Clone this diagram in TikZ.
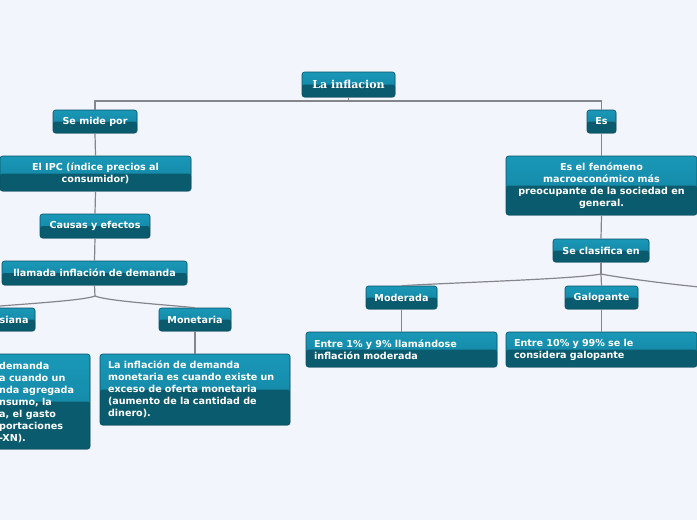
\documentclass[tikz,border=0pt]{standalone}
\usepackage{fontspec}
\newfontfamily\boxfont{DejaVu Sans}
\newfontfamily\titlefont{DejaVu Serif}
\usepackage{tikz}
\usetikzlibrary{shadows}
\definecolor{pagebg}{HTML}{F3F5FD}
\definecolor{boxtop}{HTML}{1A98B8}
\definecolor{boxmid}{HTML}{117F9D}
\definecolor{boxlow}{HTML}{0B5B6E}
\definecolor{boxline}{HTML}{0A5264}
\definecolor{linkgray}{HTML}{85858C}

\tikzset{
    topic/.style={
        rounded corners=2.5pt,
        draw=boxline,
        line width=0.6pt,
        top color=boxtop,
        bottom color=boxmid,
        path picture={
            \fill[boxlow] (path picture bounding box.west)
                rectangle (path picture bounding box.south east);
        },
        drop shadow={shadow xshift=0.5pt, shadow yshift=-0.8pt, opacity=0.25},
        text=white,
        font=\boxfont\bfseries\fontsize{9.6}{12}\selectfont,
        inner xsep=8pt,
        inner ysep=0pt,
        align=center
    },
    topictext/.style={
        text=white,
        font=\boxfont\bfseries\fontsize{9.6}{12}\selectfont,
        inner sep=0pt,
        align=left
    },
    link/.style={
        draw=linkgray,
        line width=1.2pt
    }
}

\begin{document}
\begin{tikzpicture}[x=1pt, y=-1pt]

    \useasboundingbox (0,0) rectangle (697,520);
    \fill[pagebg] (0,0) rectangle (697,520);
    \clip (0,0) rectangle (697,520);

    % connectors first, boxes on top
    \coordinate (rootjoin) at (348.5,101);
    \coordinate (demjoin) at (95,296);
    \coordinate (clasjoin) at (601,274);
    \coordinate (offright) at (760,291);

    % root
    \node[
        topic,
        font=\titlefont\bfseries\fontsize{11}{13}\selectfont,
        minimum width=93pt,
        minimum height=25pt
    ] (inflacion) at (348.5,84.5) {La inflacion};

    % left branch
    \node[topic, minimum width=84pt, minimum height=23pt] (semide) at (95,121.5) {Se mide por};
    \node[topic, minimum width=191pt, minimum height=35pt] (ipc) at (95.5,173.5)
        {El IPC (índice precios al\\consumidor)};
    \node[topic, minimum width=110pt, minimum height=24pt] (causas) at (95,226) {Causas y efectos};
    \node[topic, minimum width=185pt, minimum height=24pt] (llamada) at (94.5,273)
        {llamada inflación de demanda};

    \node[topic, minimum width=110pt, minimum height=23pt] (keynes) at (-20,319.5) {};
    \node[topictext, anchor=west] (keynestext) at (-0.5,319.5) {siana};
    \node[topic, minimum width=72pt, minimum height=23pt] (monetaria) at (195,319.5) {Monetaria};

    \node[topic, minimum width=190pt, minimum height=95pt] (keybox) at (-5,401.5) {};
    \node[topictext, anchor=west] (keyboxtext) at (-1,402) {demanda\\a cuando un\\nda agregada\\nsumo, la\\a, el gasto\\portaciones\\-XN).};
    \node[
        topic,
        minimum width=190pt,
        minimum height=71pt,
        text width=174pt,
        align=left
    ] (monettext) at (195,389.5)
        {La inflación de demanda\\monetaria es cuando existe un\\exceso de oferta monetaria\\(aumento de la cantidad de\\dinero).};

    % right branch
    \node[topic, minimum width=29pt, minimum height=23pt, inner xsep=4pt] (es) at (601.5,121.5) {Es};
    \node[topic, minimum width=191pt, minimum height=59pt] (fenomeno) at (601.5,185.5)
        {Es el fenómeno\\macroeconómico más\\preocupante de la sociedad en\\general.};
    \node[topic, minimum width=96pt, minimum height=23pt] (clasifica) at (601,250.5) {Se clasifica en};

    \node[topic, minimum width=71pt, minimum height=23pt] (moderada) at (401.5,297.5) {Moderada};
    \node[topic, minimum width=73pt, minimum height=23pt] (galopante) at (601.5,297.5) {Galopante};

    \node[
        topic,
        minimum width=191pt,
        minimum height=35pt,
        text width=175pt,
        align=left
    ] (modtext) at (401.5,349.5) {Entre 1\% y 9\% llamándose\\inflación moderada};
    \node[
        topic,
        minimum width=191pt,
        minimum height=35pt,
        text width=175pt,
        align=left
    ] (galtext) at (601.5,349.5) {Entre 10\% y 99\% se le\\considera galopante};

    % connectors
    \draw[link] (inflacion.south) -- (rootjoin) -| (semide.north);
    \draw[link] (rootjoin) -| (es.north);

    \draw[link] (semide.south) -- (ipc.north);
    \draw[link] (ipc.south) -- (causas.north);
    \draw[link] (causas.south) -- (llamada.north);
    \draw[link] (llamada.south) -- (demjoin);
    \draw[link] (demjoin) .. controls +(-12,5) and +(30,-3) .. (keynes.north);
    \draw[link] (demjoin) .. controls +(12,5) and +(-30,-3) .. (monetaria.north);
    \draw[link] (monetaria.south) -- (monettext.north);

    \draw[link] (es.south) -- (fenomeno.north);
    \draw[link] (fenomeno.south) -- (clasifica.north);
    \draw[link] (clasifica.south) -- (clasjoin);
    \draw[link] (clasjoin) -- (galopante.north);
    \draw[link] (clasjoin) .. controls +(-25,5) and +(50,-3) .. (moderada.north);
    \draw[link] (clasjoin) .. controls +(25,5) and +(-40,0) .. (offright);
    \draw[link] (moderada.south) -- (modtext.north);
    \draw[link] (galopante.south) -- (galtext.north);

\end{tikzpicture}
\end{document}
